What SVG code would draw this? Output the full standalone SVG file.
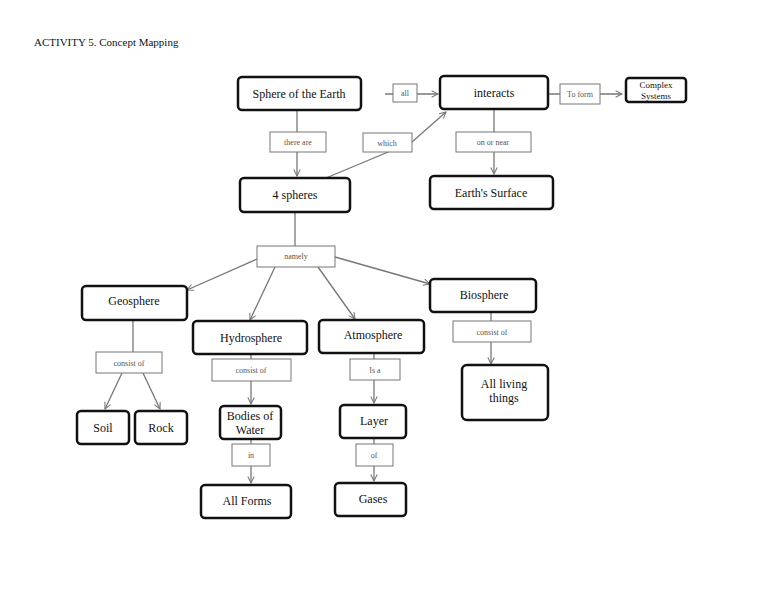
<svg xmlns="http://www.w3.org/2000/svg" width="768" height="593" viewBox="0 0 768 593">
<style>
.n{fill:#fff;stroke:#111;stroke-width:2.5}
.l{fill:#fff;stroke:#777;stroke-width:1}
.c{stroke:#777;stroke-width:1.3;fill:none}
text{font-family:"Liberation Serif",serif;fill:#111;text-anchor:middle}
.t{font-size:12px}
.s{font-size:8px;fill:#555}
</style>
<defs><marker id="a" viewBox="0 0 10 10" refX="9" refY="5" markerWidth="8" markerHeight="8" orient="auto" markerUnits="userSpaceOnUse"><path d="M1,1L9,5L1,9" fill="none" stroke="#777" stroke-width="1.3"/></marker></defs>
<text x="34" y="46" style="text-anchor:start;font-size:11px">ACTIVITY 5. Concept Mapping</text>
<g id="connectors">
<path class="c" d="M385,94H438" marker-end="url(#a)"/>
<path class="c" d="M548,94H622" marker-end="url(#a)"/>
<path class="c" d="M297,110V176" marker-end="url(#a)"/>
<path class="c" d="M326,178L412,142L446,112" marker-end="url(#a)"/>
<path class="c" d="M494,109V174" marker-end="url(#a)"/>
<path class="c" d="M295,212V246"/>
<path class="c" d="M257,259L187,290" marker-end="url(#a)"/>
<path class="c" d="M275,267L250,320" marker-end="url(#a)"/>
<path class="c" d="M318,267L355,319" marker-end="url(#a)"/>
<path class="c" d="M335,257L430,284" marker-end="url(#a)"/>
<path class="c" d="M133,320V352"/>
<path class="c" d="M122,373L105,409" marker-end="url(#a)"/>
<path class="c" d="M143,373L160,409" marker-end="url(#a)"/>
<path class="c" d="M251,354V404" marker-end="url(#a)"/>
<path class="c" d="M374,353V403" marker-end="url(#a)"/>
<path class="c" d="M491,312V364" marker-end="url(#a)"/>
<path class="c" d="M251,439V483" marker-end="url(#a)"/>
<path class="c" d="M374,438V481" marker-end="url(#a)"/>
</g>
<g id="labels">
<rect class="l" x="393" y="84" width="24" height="18"/><text class="s" x="405" y="96">all</text>
<rect class="l" x="560" y="84" width="40" height="20"/><text class="s" x="580" y="97">To form</text>
<rect class="l" x="270" y="132" width="56" height="20"/><text class="s" x="298" y="145">there are</text>
<rect class="l" x="363" y="133" width="49" height="19"/><text class="s" x="387" y="146">which</text>
<rect class="l" x="456" y="132" width="75" height="20"/><text class="s" x="493" y="145">on or near</text>
<rect class="l" x="257" y="246" width="78" height="21"/><text class="s" x="296" y="259">namely</text>
<rect class="l" x="96" y="352" width="66" height="21"/><text class="s" x="129" y="366">consist of</text>
<rect class="l" x="212" y="359" width="79" height="22"/><text class="s" x="251" y="373">consist of</text>
<rect class="l" x="350" y="359" width="50" height="21"/><text class="s" x="375" y="373">Is a</text>
<rect class="l" x="453" y="321" width="78" height="21"/><text class="s" x="492" y="335">consist of</text>
<rect class="l" x="232" y="444" width="38" height="22"/><text class="s" x="251" y="458">in</text>
<rect class="l" x="356" y="444" width="37" height="22"/><text class="s" x="374" y="458">of</text>
</g>
<g id="n1"><rect class="n" x="238" y="77" width="123" height="33" rx="4"/><text class="t" x="299" y="98">Sphere of the Earth</text></g>
<g id="n2"><rect class="n" x="440" y="76" width="108" height="33" rx="4"/><text class="t" x="494" y="97">interacts</text></g>
<g id="n3"><rect class="n" x="626" y="78" width="60" height="24" rx="3"/><text x="656" y="88" style="font-size:9px">Complex</text><text x="656" y="99" style="font-size:9px">Systems</text></g>
<g id="n4"><rect class="n" x="240" y="178" width="110" height="34" rx="4"/><text class="t" x="295" y="199">4 spheres</text></g>
<g id="n5"><rect class="n" x="430" y="176" width="123" height="33" rx="4"/><text class="t" x="491" y="197">Earth's Surface</text></g>
<g id="n6"><rect class="n" x="82" y="286" width="105" height="34" rx="4"/><text class="t" x="134" y="305">Geosphere</text></g>
<g id="n7"><rect class="n" x="193" y="321" width="114" height="33" rx="4"/><text class="t" x="251" y="342">Hydrosphere</text></g>
<g id="n8"><rect class="n" x="319" y="320" width="105" height="33" rx="4"/><text class="t" x="373" y="339">Atmosphere</text></g>
<g id="n9"><rect class="n" x="430" y="279" width="106" height="33" rx="4"/><text class="t" x="484" y="299">Biosphere</text></g>
<g id="n10"><rect class="n" x="77" y="411" width="52" height="33" rx="4"/><text class="t" x="103" y="432">Soil</text></g>
<g id="n11"><rect class="n" x="135" y="411" width="52" height="33" rx="4"/><text class="t" x="161" y="432">Rock</text></g>
<g id="n12"><rect class="n" x="220" y="406" width="61" height="33" rx="4"/><text class="t" x="250" y="420">Bodies of</text><text class="t" x="250" y="434">Water</text></g>
<g id="n13"><rect class="n" x="340" y="405" width="66" height="33" rx="4"/><text class="t" x="374" y="425">Layer</text></g>
<g id="n14"><rect class="n" x="462" y="365" width="86" height="55" rx="5"/><text class="t" x="504" y="388">All living</text><text class="t" x="504" y="402">things</text></g>
<g id="n15"><rect class="n" x="201" y="485" width="90" height="33" rx="4"/><text class="t" x="247" y="505">All Forms</text></g>
<g id="n16"><rect class="n" x="335" y="483" width="71" height="33" rx="4"/><text class="t" x="373" y="503">Gases</text></g>
</svg>
